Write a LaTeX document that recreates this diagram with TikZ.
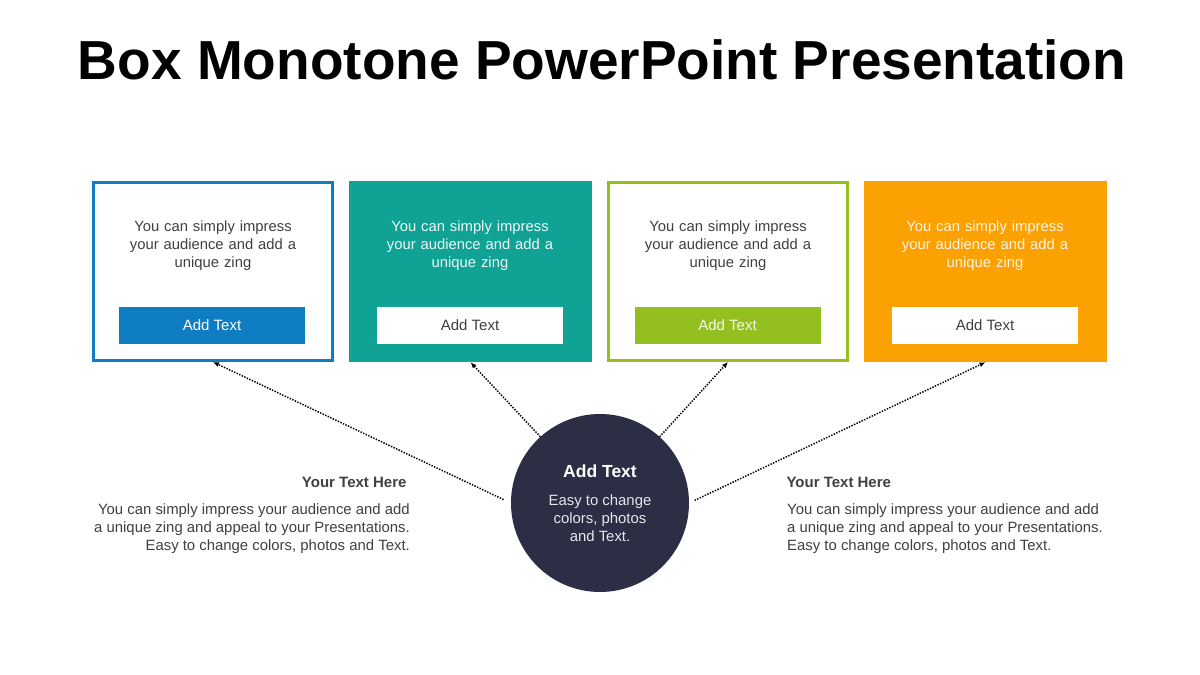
\documentclass[tikz,border=0pt]{standalone}
\usepackage{fontspec}
\setmainfont{Liberation Sans}
\usepackage{xcolor}
\usetikzlibrary{positioning,arrows.meta,calc}

\definecolor{boxblue}{HTML}{0F7DC2}
\definecolor{boxteal}{HTML}{10A295}
\definecolor{boxgreen}{HTML}{93C01F}
\definecolor{boxorange}{HTML}{FBA102}
\definecolor{hubnavy}{HTML}{2B2E45}
\definecolor{txtgray}{HTML}{404040}

\begin{document}
\begin{tikzpicture}[
    x=1pt, y=-1pt,
    >=Latex,
    outlined/.style = {rectangle, line width=3pt, fill=white,
                       minimum width=239pt, minimum height=178pt, inner sep=0pt},
    filled/.style   = {rectangle, minimum width=243pt, minimum height=181pt,
                       inner sep=0pt},
    blurb/.style    = {font=\fontsize{14.8}{18}\selectfont, align=center,
                       text width=220pt, text=txtgray},
    button/.style   = {rectangle, minimum width=186pt, minimum height=37pt,
                       inner sep=0pt, font=\fontsize{15}{18}\selectfont},
    hub/.style      = {circle, fill=hubnavy, minimum size=178pt, inner sep=0pt},
    side/.style     = {font=\fontsize{14.9}{18}\selectfont, text=txtgray},
    head/.style     = {font=\bfseries\fontsize{15}{18}\selectfont, text=txtgray},
    link/.style     = {->, line width=1.5pt, dash pattern=on 1.4pt off 1.4pt,
                       >={Latex[length=6pt,width=5pt]}},
]
\useasboundingbox[fill=white] (0,0) rectangle (1200,675);

% title
\node[font=\bfseries\fontsize{55}{62}\selectfont] (title) at (602,60)
     {Box Monotone PowerPoint Presentation};

% =============================== boxes ===============================
\node[outlined, draw=boxblue] (B1) at (213,271.5) {};
\node[blurb] (T1) at (213,246) {You can simply impress\\ your audience and add a\\ unique zing};
\node[button, fill=boxblue, text=white] (A1) at (212,325) {Add Text};

\node[filled, fill=boxteal] (B2) at (470.5,271.5) {};
\node[blurb, text=white!92!boxteal] (T2) at (470,246) {You can simply impress\\ your audience and add a\\ unique zing};
\node[button, fill=white, text=txtgray] (A2) at (470,325) {Add Text};

\node[outlined, draw=boxgreen] (B3) at (728,271.5) {};
\node[blurb] (T3) at (728,246) {You can simply impress\\ your audience and add a\\ unique zing};
\node[button, fill=boxgreen, text=white!90!boxgreen] (A3) at (727.5,325) {Add Text};

\node[filled, fill=boxorange] (B4) at (985.5,271.5) {};
\node[blurb, text=white!88!boxorange] (T4) at (985,246) {You can simply impress\\ your audience and add a\\ unique zing};
\node[button, fill=white, text=txtgray] (A4) at (985,325) {Add Text};

% =============================== hub ===============================
\node[hub] (H) at (600,503) {};
\node[font=\bfseries\fontsize{17.5}{20}\selectfont, text=white] (Ht) at (600,471) {Add Text};
\node[font=\fontsize{14.9}{18}\selectfont, text=white!88!hubnavy, align=center] (Hb) at (600,518)
     {Easy to change\\ colors, photos\\ and Text.};

% dotted links from the hub up to each box
\draw[link, shorten <=8pt] (H.west) -- (B1.south);
\draw[link] (H.132) -- (B2.south);
\draw[link] (H.48) -- (B3.south);
\draw[link, shorten <=6pt] (H.east) -- (B4.south);

% =============================== side texts ===============================
\node[head, anchor=east] (L1) at (410,482) {Your Text Here};
\node[side, anchor=north east, align=right, inner sep=0pt] (L2) at (410,503)
     {You can simply impress your audience and add\\
      a unique zing and appeal to your Presentations.\\
      Easy to change colors, photos and Text.};

\node[head, anchor=west] (R1) at (783,482) {Your Text Here};
\node[side, anchor=north west, align=left, inner sep=0pt] (R2) at (787,503)
     {You can simply impress your audience and add\\
      a unique zing and appeal to your Presentations.\\
      Easy to change colors, photos and Text.};

\end{tikzpicture}
\end{document}
